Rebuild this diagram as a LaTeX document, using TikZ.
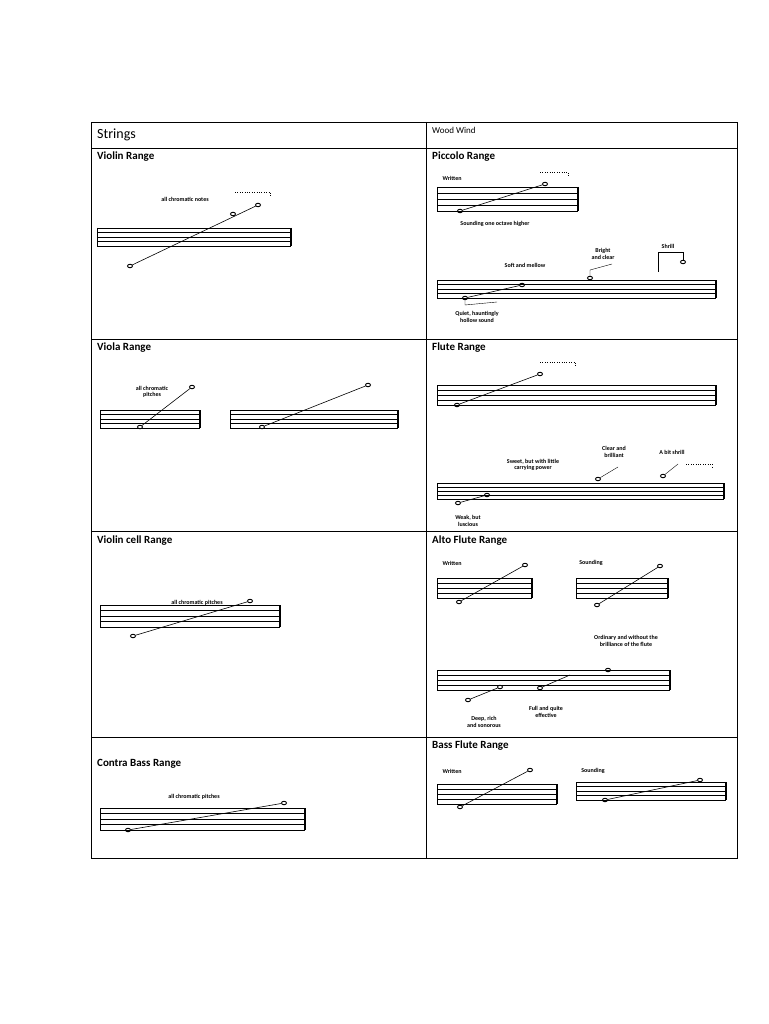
\documentclass[tikz,border=0pt]{standalone}
\usepackage{fontspec}
\usetikzlibrary{shapes.geometric}
\setmainfont{Carlito}
\begin{document}
\begin{tikzpicture}[x=1pt,y=-1pt,
 title/.style={anchor=west,font=\bfseries\fontsize{11}{12}\selectfont,inner sep=0},
 lab/.style={font=\bfseries\fontsize{6}{6.5}\selectfont,align=center,inner sep=0},
 grid/.style={line width=0.8pt},
 note/.style={draw,line width=0.9pt,ellipse,minimum width=5pt,minimum height=3.5pt,inner sep=0},
 rng/.style={line width=0.6pt}]
\useasboundingbox (0,0) rectangle (768,1024);
\newcommand\stave[4]{\foreach \k in {0,...,4}{\draw[line width=0.5pt] (#1,#3+\k*#4) -- (#2,#3+\k*#4);}\draw[line width=1.2pt] (#2,#3) -- (#2,#3+4*#4);\draw[line width=0.5pt] (#1,#3) -- (#1,#3+4*#4);}
% table
\draw[grid] (91,122) rectangle (737,858);
\draw[grid] (426,122) -- (426,858);
\foreach \yy in {148,339,531,737}{\draw[grid] (91,\yy) -- (737,\yy);}
\node[anchor=west,inner sep=0,font=\fontsize{14}{15}\selectfont] (hs) at (97,135) {Strings};
\node[anchor=west,inner sep=0,font=\fontsize{9}{10}\selectfont] (hw) at (432,130) {Wood Wind};
\node[title] (t1) at (97,157) {Violin Range};
\node[title] (t2) at (432,157) {Piccolo Range};
\node[title] (t3) at (97,348) {Viola Range};
\node[title] (t4) at (432,348) {Flute Range};
\node[title] (t5) at (97,541) {Violin cell Range};
\node[title] (t6) at (432,541) {Alto Flute Range};
\node[title] (t7) at (97,764) {Contra Bass Range};
\node[title] (t8) at (432,746) {Bass Flute Range};
% violin
\stave{97}{291}{228}{4.5}
\node[note] (v1) at (130,266) {}; \node[note] (v2) at (233,214) {}; \node[note] (v3) at (258,205) {};
\draw[rng] (v1) -- (v3);
\draw[dotted] (235,192) -- (270,192) -- (270,197);
\node[lab] at (185,199) {all chromatic notes};
% piccolo
\stave{437}{578}{187}{6}
\node[note] (p1) at (460,211) {}; \node[note] (p2) at (545,184) {}; \draw[rng] (p1) -- (p2);
\draw[dotted] (540,172) -- (568,172) -- (568,176);
\node[lab] at (452,178) {Written};
\node[lab] at (495,224) {Sounding one octave higher};
\stave{437}{716}{280}{4.5}
\node[note] (q1) at (465,298) {}; \node[note] (q2) at (522,285) {}; \node[note] (q3) at (590,278) {}; \node[note] (q4) at (683,262) {};
\draw[rng] (q1) -- (q2); \draw (q3) -- ++(0,-8) -- ++(22,-6); \draw (q4) -- ++(0,-10) -- ++(-25,0) -- ++(0,20);
\node[lab] at (525,265) {Soft and mellow};
\node[lab] at (603,254) {Bright\\and clear};
\node[lab] at (668,246) {Shrill};
\node[lab] at (477,317) {Quiet, hauntingly\\hollow sound};
\draw (q1) -- (465,305) -- (497,302);
% viola
\stave{100}{200}{410}{4.5}\stave{230}{398}{410}{4.5}
\node[note] (a1) at (140,427) {}; \node[note] (a2) at (192,387) {}; \draw[rng] (a1) -- (a2);
\node[note] (a3) at (262,427) {}; \node[note] (a4) at (368,385) {}; \draw[rng] (a3) -- (a4);
\node[lab] at (152,392) {all chromatic\\pitches};
% flute
\stave{437}{716}{385}{5}
\node[note] (f1) at (457,405) {}; \node[note] (f2) at (540,374) {}; \draw[rng] (f1) -- (f2);
\draw[dotted] (540,362) -- (575,362) -- (575,367);
\stave{437}{724}{483}{4}
\node[note] (g1) at (458,503) {}; \node[note] (g2) at (487,495) {}; \node[note] (g3) at (598,479) {}; \node[note] (g4) at (663,476) {};
\draw[rng] (g1) -- (g2); \draw (g3) -- ++(20,-12); \draw (g4) -- ++(15,-12);
\draw[dotted] (686,464) -- (712,464) -- (712,468);
\node[lab] at (533,465) {Sweet, but with little\\carrying power};
\node[lab] at (614,452) {Clear and\\brilliant};
\node[lab] at (672,452) {A bit shrill};
\node[lab] at (468,521) {Weak, but\\luscious};
% cello
\stave{100}{280}{605}{5.5}
\node[note] (c1) at (133,636) {}; \node[note] (c2) at (250,601) {}; \draw[rng] (c1) -- (c2);
\node[lab] at (197,603) {all chromatic pitches};
% alto flute
\stave{437}{532}{578}{5}\stave{576}{668}{578}{5}
\node[note] (l1) at (459,602) {}; \node[note] (l2) at (525,565) {}; \draw[rng] (l1) -- (l2);
\node[note] (l3) at (597,605) {}; \node[note] (l4) at (660,566) {}; \draw[rng] (l3) -- (l4);
\node[lab] at (452,563) {Written}; \node[lab] at (591,563) {Sounding};
\stave{437}{670}{670}{5}
\node[note] (m1) at (468,700) {}; \node[note] (m2) at (500,687) {}; \node[note] (m3) at (540,688) {}; \node[note] (m4) at (608,670) {};
\draw[rng] (m1) -- (m2); \draw[rng] (m3) -- (570,675);
\node[lab] at (626,641) {Ordinary and without the\\brilliance of the flute};
\node[lab] at (546,712) {Full and quite\\effective};
\node[lab] at (484,722) {Deep, rich\\and sonorous};
% contra bass
\stave{100}{305}{808}{5.5}
\node[note] (b1) at (128,830) {}; \node[note] (b2) at (284,803) {}; \draw[rng] (b1) -- (b2);
\node[lab] at (194,797) {all chromatic pitches};
% bass flute
\stave{437}{557}{784}{5}\stave{576}{726}{782}{4.5}
\node[note] (r1) at (460,807) {}; \node[note] (r2) at (530,770) {}; \draw[rng] (r1) -- (r2);
\node[note] (r3) at (605,800) {}; \node[note] (r4) at (700,780) {}; \draw[rng] (r3) -- (r4);
\node[lab] at (452,771) {Written}; \node[lab] at (593,771) {Sounding};
\end{tikzpicture}
\end{document}
